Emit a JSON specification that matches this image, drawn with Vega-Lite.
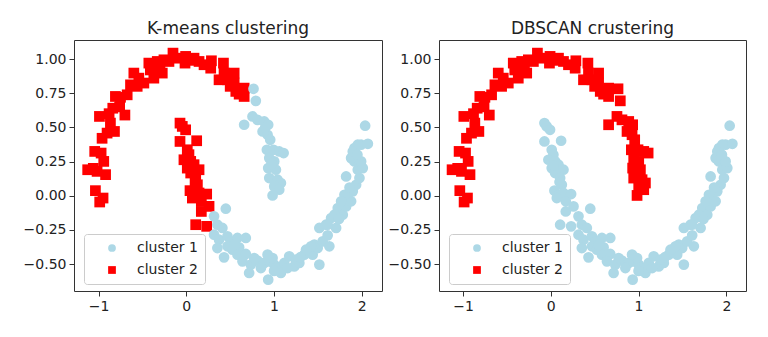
{
"$schema": "https://vega.github.io/schema/vega-lite/v6.json",
"background": "white",
"padding": {"left": 22, "top": 19, "right": 14, "bottom": 10},
"config": {
  "font": "DejaVu Sans",
  "view": {"stroke": "#333", "strokeWidth": 1},
  "axis": {"domain": false, "grid": false, "tickColor": "#333", "tickSize": 5, "labelFontSize": 14, "labelColor": "#222", "labelPadding": 3, "title": null, "labelFont": "DejaVu Sans"},
  "title": {"fontSize": 17, "fontWeight": "normal", "color": "#222", "offset": 2, "font": "DejaVu Sans"},
  "legend": {"title": null, "orient": "none", "legendX": 10, "legendY": 194, "padding": 7, "fillColor": "white", "strokeColor": "#cccccc", "cornerRadius": 3, "labelFontSize": 14, "labelColor": "#222", "labelFont": "DejaVu Sans", "symbolSize": 60, "labelOffset": 18, "symbolOffset": 14, "rowPadding": 8, "symbolOpacity": 1},
  "concat": {"spacing": 4}
},
"resolve": {"scale": {"color": "independent", "shape": "independent"}, "legend": {"color": "independent", "shape": "independent"}},
"datasets": {"moons": [
{"x":-1.124,"y":0.19,"kmeans":"cluster 2","dbscan":"cluster 2"},
{"x":-1.06,"y":0.2,"kmeans":"cluster 2","dbscan":"cluster 2"},
{"x":-1.017,"y":0.178,"kmeans":"cluster 2","dbscan":"cluster 2"},
{"x":-0.92,"y":0.154,"kmeans":"cluster 2","dbscan":"cluster 2"},
{"x":-1.036,"y":0.037,"kmeans":"cluster 2","dbscan":"cluster 2"},
{"x":-0.949,"y":-0.017,"kmeans":"cluster 2","dbscan":"cluster 2"},
{"x":-0.987,"y":-0.046,"kmeans":"cluster 2","dbscan":"cluster 2"},
{"x":-1.044,"y":0.324,"kmeans":"cluster 2","dbscan":"cluster 2"},
{"x":-0.971,"y":0.312,"kmeans":"cluster 2","dbscan":"cluster 2"},
{"x":-0.941,"y":0.251,"kmeans":"cluster 2","dbscan":"cluster 2"},
{"x":-0.99,"y":0.58,"kmeans":"cluster 2","dbscan":"cluster 2"},
{"x":-0.96,"y":0.42,"kmeans":"cluster 2","dbscan":"cluster 2"},
{"x":-0.903,"y":0.458,"kmeans":"cluster 2","dbscan":"cluster 2"},
{"x":-0.865,"y":0.531,"kmeans":"cluster 2","dbscan":"cluster 2"},
{"x":-0.819,"y":0.47,"kmeans":"cluster 2","dbscan":"cluster 2"},
{"x":-0.838,"y":0.64,"kmeans":"cluster 2","dbscan":"cluster 2"},
{"x":-0.808,"y":0.726,"kmeans":"cluster 2","dbscan":"cluster 2"},
{"x":-0.75,"y":0.72,"kmeans":"cluster 2","dbscan":"cluster 2"},
{"x":-0.7,"y":0.59,"kmeans":"cluster 2","dbscan":"cluster 2"},
{"x":-0.76,"y":0.65,"kmeans":"cluster 2","dbscan":"cluster 2"},
{"x":-0.674,"y":0.738,"kmeans":"cluster 2","dbscan":"cluster 2"},
{"x":-0.636,"y":0.811,"kmeans":"cluster 2","dbscan":"cluster 2"},
{"x":-0.598,"y":0.897,"kmeans":"cluster 2","dbscan":"cluster 2"},
{"x":-0.541,"y":0.86,"kmeans":"cluster 2","dbscan":"cluster 2"},
{"x":-0.484,"y":0.824,"kmeans":"cluster 2","dbscan":"cluster 2"},
{"x":-0.427,"y":0.97,"kmeans":"cluster 2","dbscan":"cluster 2"},
{"x":-0.37,"y":0.86,"kmeans":"cluster 2","dbscan":"cluster 2"},
{"x":-0.41,"y":0.92,"kmeans":"cluster 2","dbscan":"cluster 2"},
{"x":-0.331,"y":0.982,"kmeans":"cluster 2","dbscan":"cluster 2"},
{"x":-0.274,"y":0.897,"kmeans":"cluster 2","dbscan":"cluster 2"},
{"x":-0.255,"y":0.994,"kmeans":"cluster 2","dbscan":"cluster 2"},
{"x":-0.152,"y":1.043,"kmeans":"cluster 2","dbscan":"cluster 2"},
{"x":-0.198,"y":0.982,"kmeans":"cluster 2","dbscan":"cluster 2"},
{"x":-0.084,"y":1.006,"kmeans":"cluster 2","dbscan":"cluster 2"},
{"x":-0.015,"y":0.97,"kmeans":"cluster 2","dbscan":"cluster 2"},
{"x":-0.008,"y":1.019,"kmeans":"cluster 2","dbscan":"cluster 2"},
{"x":0.088,"y":1.006,"kmeans":"cluster 2","dbscan":"cluster 2"},
{"x":0.145,"y":0.982,"kmeans":"cluster 2","dbscan":"cluster 2"},
{"x":0.202,"y":0.958,"kmeans":"cluster 2","dbscan":"cluster 2"},
{"x":0.286,"y":0.987,"kmeans":"cluster 2","dbscan":"cluster 2"},
{"x":0.278,"y":0.933,"kmeans":"cluster 2","dbscan":"cluster 2"},
{"x":0.423,"y":0.97,"kmeans":"cluster 2","dbscan":"cluster 2"},
{"x":0.43,"y":0.897,"kmeans":"cluster 2","dbscan":"cluster 2"},
{"x":0.373,"y":0.848,"kmeans":"cluster 2","dbscan":"cluster 2"},
{"x":0.469,"y":0.848,"kmeans":"cluster 2","dbscan":"cluster 2"},
{"x":0.545,"y":0.897,"kmeans":"cluster 2","dbscan":"cluster 2"},
{"x":0.545,"y":0.824,"kmeans":"cluster 2","dbscan":"cluster 2"},
{"x":0.564,"y":0.763,"kmeans":"cluster 2","dbscan":"cluster 2"},
{"x":0.659,"y":0.787,"kmeans":"cluster 2","dbscan":"cluster 2"},
{"x":0.659,"y":0.726,"kmeans":"cluster 2","dbscan":"cluster 2"},
{"x":0.602,"y":0.743,"kmeans":"cluster 2","dbscan":"cluster 2"},
{"x":-0.88,"y":0.6,"kmeans":"cluster 2","dbscan":"cluster 2"},
{"x":-0.56,"y":0.8,"kmeans":"cluster 2","dbscan":"cluster 2"},
{"x":-0.3,"y":0.93,"kmeans":"cluster 2","dbscan":"cluster 2"},
{"x":0.05,"y":0.99,"kmeans":"cluster 2","dbscan":"cluster 2"},
{"x":0.5,"y":0.8,"kmeans":"cluster 2","dbscan":"cluster 2"},
{"x":0.766,"y":0.782,"kmeans":"cluster 1","dbscan":"cluster 2"},
{"x":0.792,"y":0.694,"kmeans":"cluster 1","dbscan":"cluster 2"},
{"x":0.659,"y":0.519,"kmeans":"cluster 1","dbscan":"cluster 2"},
{"x":0.754,"y":0.58,"kmeans":"cluster 1","dbscan":"cluster 2"},
{"x":0.811,"y":0.555,"kmeans":"cluster 1","dbscan":"cluster 2"},
{"x":0.888,"y":0.543,"kmeans":"cluster 1","dbscan":"cluster 2"},
{"x":0.933,"y":0.519,"kmeans":"cluster 1","dbscan":"cluster 2"},
{"x":0.869,"y":0.47,"kmeans":"cluster 1","dbscan":"cluster 2"},
{"x":0.926,"y":0.446,"kmeans":"cluster 1","dbscan":"cluster 2"},
{"x":0.956,"y":0.409,"kmeans":"cluster 1","dbscan":"cluster 2"},
{"x":0.918,"y":0.336,"kmeans":"cluster 1","dbscan":"cluster 2"},
{"x":0.994,"y":0.336,"kmeans":"cluster 1","dbscan":"cluster 2"},
{"x":1.059,"y":0.324,"kmeans":"cluster 1","dbscan":"cluster 2"},
{"x":1.109,"y":0.312,"kmeans":"cluster 1","dbscan":"cluster 2"},
{"x":0.945,"y":0.275,"kmeans":"cluster 1","dbscan":"cluster 2"},
{"x":1.002,"y":0.251,"kmeans":"cluster 1","dbscan":"cluster 2"},
{"x":0.933,"y":0.202,"kmeans":"cluster 1","dbscan":"cluster 2"},
{"x":1.021,"y":0.19,"kmeans":"cluster 1","dbscan":"cluster 2"},
{"x":0.945,"y":0.129,"kmeans":"cluster 1","dbscan":"cluster 2"},
{"x":1.04,"y":0.117,"kmeans":"cluster 1","dbscan":"cluster 2"},
{"x":1.078,"y":0.093,"kmeans":"cluster 1","dbscan":"cluster 2"},
{"x":1.002,"y":0.068,"kmeans":"cluster 1","dbscan":"cluster 2"},
{"x":1.059,"y":0.044,"kmeans":"cluster 1","dbscan":"cluster 2"},
{"x":0.983,"y":0.002,"kmeans":"cluster 1","dbscan":"cluster 2"},
{"x":0.97,"y":0.23,"kmeans":"cluster 1","dbscan":"cluster 2"},
{"x":0.9,"y":0.5,"kmeans":"cluster 1","dbscan":"cluster 2"},
{"x":-0.072,"y":0.531,"kmeans":"cluster 2","dbscan":"cluster 1"},
{"x":-0.046,"y":0.507,"kmeans":"cluster 2","dbscan":"cluster 1"},
{"x":-0.008,"y":0.482,"kmeans":"cluster 2","dbscan":"cluster 1"},
{"x":-0.072,"y":0.397,"kmeans":"cluster 2","dbscan":"cluster 1"},
{"x":0.118,"y":0.402,"kmeans":"cluster 2","dbscan":"cluster 1"},
{"x":0.011,"y":0.336,"kmeans":"cluster 2","dbscan":"cluster 1"},
{"x":0.03,"y":0.3,"kmeans":"cluster 2","dbscan":"cluster 1"},
{"x":-0.027,"y":0.263,"kmeans":"cluster 2","dbscan":"cluster 1"},
{"x":0.05,"y":0.251,"kmeans":"cluster 2","dbscan":"cluster 1"},
{"x":0.088,"y":0.227,"kmeans":"cluster 2","dbscan":"cluster 1"},
{"x":0.011,"y":0.202,"kmeans":"cluster 2","dbscan":"cluster 1"},
{"x":0.145,"y":0.19,"kmeans":"cluster 2","dbscan":"cluster 1"},
{"x":0.05,"y":0.166,"kmeans":"cluster 2","dbscan":"cluster 1"},
{"x":0.107,"y":0.129,"kmeans":"cluster 2","dbscan":"cluster 1"},
{"x":0.126,"y":0.08,"kmeans":"cluster 2","dbscan":"cluster 1"},
{"x":0.042,"y":0.037,"kmeans":"cluster 2","dbscan":"cluster 1"},
{"x":0.088,"y":0.007,"kmeans":"cluster 2","dbscan":"cluster 1"},
{"x":0.145,"y":0.02,"kmeans":"cluster 2","dbscan":"cluster 1"},
{"x":0.232,"y":0.012,"kmeans":"cluster 2","dbscan":"cluster 1"},
{"x":0.069,"y":-0.017,"kmeans":"cluster 2","dbscan":"cluster 1"},
{"x":0.171,"y":-0.041,"kmeans":"cluster 2","dbscan":"cluster 1"},
{"x":0.259,"y":-0.078,"kmeans":"cluster 2","dbscan":"cluster 1"},
{"x":0.171,"y":-0.115,"kmeans":"cluster 2","dbscan":"cluster 1"},
{"x":0.107,"y":-0.212,"kmeans":"cluster 2","dbscan":"cluster 1"},
{"x":0.232,"y":-0.224,"kmeans":"cluster 2","dbscan":"cluster 1"},
{"x":0.03,"y":0.22,"kmeans":"cluster 2","dbscan":"cluster 1"},
{"x":0.1,"y":0.1,"kmeans":"cluster 2","dbscan":"cluster 1"},
{"x":0.316,"y":-0.151,"kmeans":"cluster 1","dbscan":"cluster 1"},
{"x":0.45,"y":-0.095,"kmeans":"cluster 1","dbscan":"cluster 1"},
{"x":0.354,"y":-0.212,"kmeans":"cluster 1","dbscan":"cluster 1"},
{"x":0.411,"y":-0.236,"kmeans":"cluster 1","dbscan":"cluster 1"},
{"x":0.316,"y":-0.285,"kmeans":"cluster 1","dbscan":"cluster 1"},
{"x":0.373,"y":-0.322,"kmeans":"cluster 1","dbscan":"cluster 1"},
{"x":0.469,"y":-0.297,"kmeans":"cluster 1","dbscan":"cluster 1"},
{"x":0.507,"y":-0.334,"kmeans":"cluster 1","dbscan":"cluster 1"},
{"x":0.583,"y":-0.309,"kmeans":"cluster 1","dbscan":"cluster 1"},
{"x":0.678,"y":-0.309,"kmeans":"cluster 1","dbscan":"cluster 1"},
{"x":0.354,"y":-0.383,"kmeans":"cluster 1","dbscan":"cluster 1"},
{"x":0.469,"y":-0.37,"kmeans":"cluster 1","dbscan":"cluster 1"},
{"x":0.526,"y":-0.395,"kmeans":"cluster 1","dbscan":"cluster 1"},
{"x":0.43,"y":-0.451,"kmeans":"cluster 1","dbscan":"cluster 1"},
{"x":0.602,"y":-0.378,"kmeans":"cluster 1","dbscan":"cluster 1"},
{"x":0.583,"y":-0.431,"kmeans":"cluster 1","dbscan":"cluster 1"},
{"x":0.678,"y":-0.426,"kmeans":"cluster 1","dbscan":"cluster 1"},
{"x":0.64,"y":-0.48,"kmeans":"cluster 1","dbscan":"cluster 1"},
{"x":0.735,"y":-0.504,"kmeans":"cluster 1","dbscan":"cluster 1"},
{"x":0.716,"y":-0.565,"kmeans":"cluster 1","dbscan":"cluster 1"},
{"x":0.811,"y":-0.475,"kmeans":"cluster 1","dbscan":"cluster 1"},
{"x":0.888,"y":-0.492,"kmeans":"cluster 1","dbscan":"cluster 1"},
{"x":0.945,"y":-0.48,"kmeans":"cluster 1","dbscan":"cluster 1"},
{"x":0.85,"y":-0.529,"kmeans":"cluster 1","dbscan":"cluster 1"},
{"x":0.933,"y":-0.614,"kmeans":"cluster 1","dbscan":"cluster 1"},
{"x":1.002,"y":-0.504,"kmeans":"cluster 1","dbscan":"cluster 1"},
{"x":1.059,"y":-0.529,"kmeans":"cluster 1","dbscan":"cluster 1"},
{"x":0.983,"y":-0.456,"kmeans":"cluster 1","dbscan":"cluster 1"},
{"x":1.078,"y":-0.565,"kmeans":"cluster 1","dbscan":"cluster 1"},
{"x":1.116,"y":-0.492,"kmeans":"cluster 1","dbscan":"cluster 1"},
{"x":1.173,"y":-0.443,"kmeans":"cluster 1","dbscan":"cluster 1"},
{"x":1.23,"y":-0.517,"kmeans":"cluster 1","dbscan":"cluster 1"},
{"x":1.288,"y":-0.492,"kmeans":"cluster 1","dbscan":"cluster 1"},
{"x":1.345,"y":-0.431,"kmeans":"cluster 1","dbscan":"cluster 1"},
{"x":1.44,"y":-0.431,"kmeans":"cluster 1","dbscan":"cluster 1"},
{"x":1.497,"y":-0.383,"kmeans":"cluster 1","dbscan":"cluster 1"},
{"x":1.516,"y":-0.504,"kmeans":"cluster 1","dbscan":"cluster 1"},
{"x":1.459,"y":-0.358,"kmeans":"cluster 1","dbscan":"cluster 1"},
{"x":1.554,"y":-0.334,"kmeans":"cluster 1","dbscan":"cluster 1"},
{"x":1.611,"y":-0.29,"kmeans":"cluster 1","dbscan":"cluster 1"},
{"x":1.63,"y":-0.37,"kmeans":"cluster 1","dbscan":"cluster 1"},
{"x":1.516,"y":-0.236,"kmeans":"cluster 1","dbscan":"cluster 1"},
{"x":1.592,"y":-0.212,"kmeans":"cluster 1","dbscan":"cluster 1"},
{"x":1.65,"y":-0.163,"kmeans":"cluster 1","dbscan":"cluster 1"},
{"x":1.707,"y":-0.236,"kmeans":"cluster 1","dbscan":"cluster 1"},
{"x":1.726,"y":-0.09,"kmeans":"cluster 1","dbscan":"cluster 1"},
{"x":1.783,"y":-0.139,"kmeans":"cluster 1","dbscan":"cluster 1"},
{"x":1.821,"y":-0.078,"kmeans":"cluster 1","dbscan":"cluster 1"},
{"x":1.84,"y":-0.017,"kmeans":"cluster 1","dbscan":"cluster 1"},
{"x":1.878,"y":-0.041,"kmeans":"cluster 1","dbscan":"cluster 1"},
{"x":1.897,"y":0.032,"kmeans":"cluster 1","dbscan":"cluster 1"},
{"x":1.935,"y":0.08,"kmeans":"cluster 1","dbscan":"cluster 1"},
{"x":1.821,"y":0.141,"kmeans":"cluster 1","dbscan":"cluster 1"},
{"x":1.973,"y":0.129,"kmeans":"cluster 1","dbscan":"cluster 1"},
{"x":1.954,"y":0.19,"kmeans":"cluster 1","dbscan":"cluster 1"},
{"x":2.011,"y":0.202,"kmeans":"cluster 1","dbscan":"cluster 1"},
{"x":1.916,"y":0.251,"kmeans":"cluster 1","dbscan":"cluster 1"},
{"x":1.992,"y":0.251,"kmeans":"cluster 1","dbscan":"cluster 1"},
{"x":1.878,"y":0.275,"kmeans":"cluster 1","dbscan":"cluster 1"},
{"x":1.916,"y":0.348,"kmeans":"cluster 1","dbscan":"cluster 1"},
{"x":1.992,"y":0.373,"kmeans":"cluster 1","dbscan":"cluster 1"},
{"x":2.069,"y":0.38,"kmeans":"cluster 1","dbscan":"cluster 1"},
{"x":1.954,"y":0.373,"kmeans":"cluster 1","dbscan":"cluster 1"},
{"x":2.038,"y":0.512,"kmeans":"cluster 1","dbscan":"cluster 1"},
{"x":1.897,"y":0.324,"kmeans":"cluster 1","dbscan":"cluster 1"},
{"x":1.802,"y":0.007,"kmeans":"cluster 1","dbscan":"cluster 1"},
{"x":1.764,"y":-0.041,"kmeans":"cluster 1","dbscan":"cluster 1"},
{"x":1.688,"y":-0.139,"kmeans":"cluster 1","dbscan":"cluster 1"},
{"x":1.611,"y":-0.212,"kmeans":"cluster 1","dbscan":"cluster 1"},
{"x":1.421,"y":-0.37,"kmeans":"cluster 1","dbscan":"cluster 1"},
{"x":1.364,"y":-0.395,"kmeans":"cluster 1","dbscan":"cluster 1"},
{"x":1.25,"y":-0.468,"kmeans":"cluster 1","dbscan":"cluster 1"},
{"x":1.154,"y":-0.529,"kmeans":"cluster 1","dbscan":"cluster 1"},
{"x":0.926,"y":-0.431,"kmeans":"cluster 1","dbscan":"cluster 1"},
{"x":0.773,"y":-0.456,"kmeans":"cluster 1","dbscan":"cluster 1"},
{"x":1.86,"y":0.06,"kmeans":"cluster 1","dbscan":"cluster 1"},
{"x":1.95,"y":0.3,"kmeans":"cluster 1","dbscan":"cluster 1"},
{"x":1.74,"y":-0.17,"kmeans":"cluster 1","dbscan":"cluster 1"},
{"x":1.3,"y":-0.45,"kmeans":"cluster 1","dbscan":"cluster 1"},
{"x":1.0,"y":-0.55,"kmeans":"cluster 1","dbscan":"cluster 1"},
{"x":0.55,"y":-0.36,"kmeans":"cluster 1","dbscan":"cluster 1"}
]},
"hconcat": [
{
  "title": "K-means clustering",
  "width": 308, "height": 251,
  "data": {"name": "moons"},
  "mark": {"type": "point", "filled": true, "opacity": 1, "size": 115},
  "encoding": {
    "x": {"field": "x", "type": "quantitative", "scale": {"domain": [-1.28, 2.23], "nice": false, "zero": false}, "axis": {"values": [-1, 0, 1, 2], "format": "d"}},
    "y": {"field": "y", "type": "quantitative", "scale": {"domain": [-0.697, 1.139], "nice": false, "zero": false}, "axis": {"values": [-0.5, -0.25, 0, 0.25, 0.5, 0.75, 1], "format": ".2f"}},
    "color": {"field": "kmeans", "type": "nominal", "scale": {"domain": ["cluster 1", "cluster 2"], "range": ["#add8e6", "#ff0000"]}},
    "shape": {"field": "kmeans", "type": "nominal", "scale": {"domain": ["cluster 1", "cluster 2"], "range": ["circle", "square"]}}
  }
},
{
  "title": "DBSCAN crustering",
  "width": 307, "height": 251,
  "data": {"name": "moons"},
  "mark": {"type": "point", "filled": true, "opacity": 1, "size": 115},
  "encoding": {
    "x": {"field": "x", "type": "quantitative", "scale": {"domain": [-1.273, 2.224], "nice": false, "zero": false}, "axis": {"values": [-1, 0, 1, 2], "format": "d"}},
    "y": {"field": "y", "type": "quantitative", "scale": {"domain": [-0.697, 1.139], "nice": false, "zero": false}, "axis": {"values": [-0.5, -0.25, 0, 0.25, 0.5, 0.75, 1], "format": ".2f"}},
    "color": {"field": "dbscan", "type": "nominal", "scale": {"domain": ["cluster 1", "cluster 2"], "range": ["#add8e6", "#ff0000"]}},
    "shape": {"field": "dbscan", "type": "nominal", "scale": {"domain": ["cluster 1", "cluster 2"], "range": ["circle", "square"]}}
  }
}
]
}
